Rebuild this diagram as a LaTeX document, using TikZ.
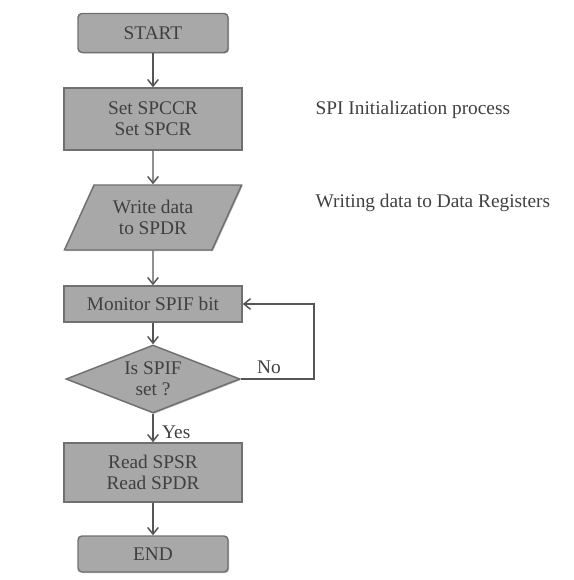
\documentclass[tikz,border=0pt]{standalone}
\usepackage{fontspec}
\setmainfont{Liberation Serif}
\usetikzlibrary{shapes.geometric,arrows.meta,shadows}
\definecolor{boxfill}{HTML}{A8A8A8}
\definecolor{boxedge}{HTML}{707070}
\definecolor{txt}{HTML}{404040}
\definecolor{arr}{HTML}{555555}
\begin{document}
\begin{tikzpicture}[x=0.75pt,y=-0.75pt,
  every node/.style={text=txt,font=\fontsize{14.5}{16}\selectfont},
  boxbase/.style={fill=boxfill,draw=boxedge,line width=1.1pt,align=center,inner sep=0pt,
    drop shadow={shadow xshift=0.8pt,shadow yshift=-0.8pt,fill=black!45,opacity=0.6}},
  procbox/.style={boxbase,rectangle,minimum width=133.5pt},
  termbox/.style={boxbase,rectangle,rounded corners=3pt,minimum width=112.5pt},
  iobox/.style={boxbase,trapezium,trapezium left angle=60,trapezium right angle=120,
    trapezium stretches=true,minimum width=133.5pt,minimum height=48.75pt},
  decbox/.style={boxbase,diamond,minimum width=130.5pt,minimum height=51pt,aspect=2.5},
  flow/.style={draw=arr,line width=1.1pt,-{Straight Barb[length=5pt,width=8pt,line width=1.1pt]}},
  note/.style={anchor=west,text=txt}
]
\useasboundingbox (0,0) rectangle (573,580);
\node[termbox,minimum height=29.25pt] (start) at (153,33) {START};
\node[procbox,minimum height=46.5pt] (init) at (153,119) {Set SPCCR\\Set SPCR};
\node[iobox] (write) at (153,217.5) {Write data\\to SPDR};
\node[procbox,minimum height=27pt] (mon) at (153,304) {Monitor SPIF bit};
\node[decbox] (dec) at (153,379) {Is SPIF\\set ?};
\node[procbox,minimum height=44.25pt] (read) at (153,472.5) {Read SPSR\\Read SPDR};
\node[termbox,minimum height=27pt] (end) at (153,554) {END};
\coordinate (loopA) at (314,379);
\coordinate (loopB) at (314,304);
\draw[flow] (start) -- (init);
\draw[flow] (init) -- (write);
\draw[flow] (write) -- (mon);
\draw[flow] (mon) -- (dec);
\draw[flow] (dec) -- node[anchor=west,xshift=3pt,yshift=-3pt] (yes) {Yes} (read);
\draw[flow] (read) -- (end);
\draw[flow] (dec.east) -- (loopA) -- (loopB) -- (mon.east);
\node (no) at (269,367) {No};
\node[note] (n1) at (311,110) {SPI Initialization process};
\node[note] (n2) at (311,203) {Writing data to Data Registers};
\end{tikzpicture}
\end{document}
